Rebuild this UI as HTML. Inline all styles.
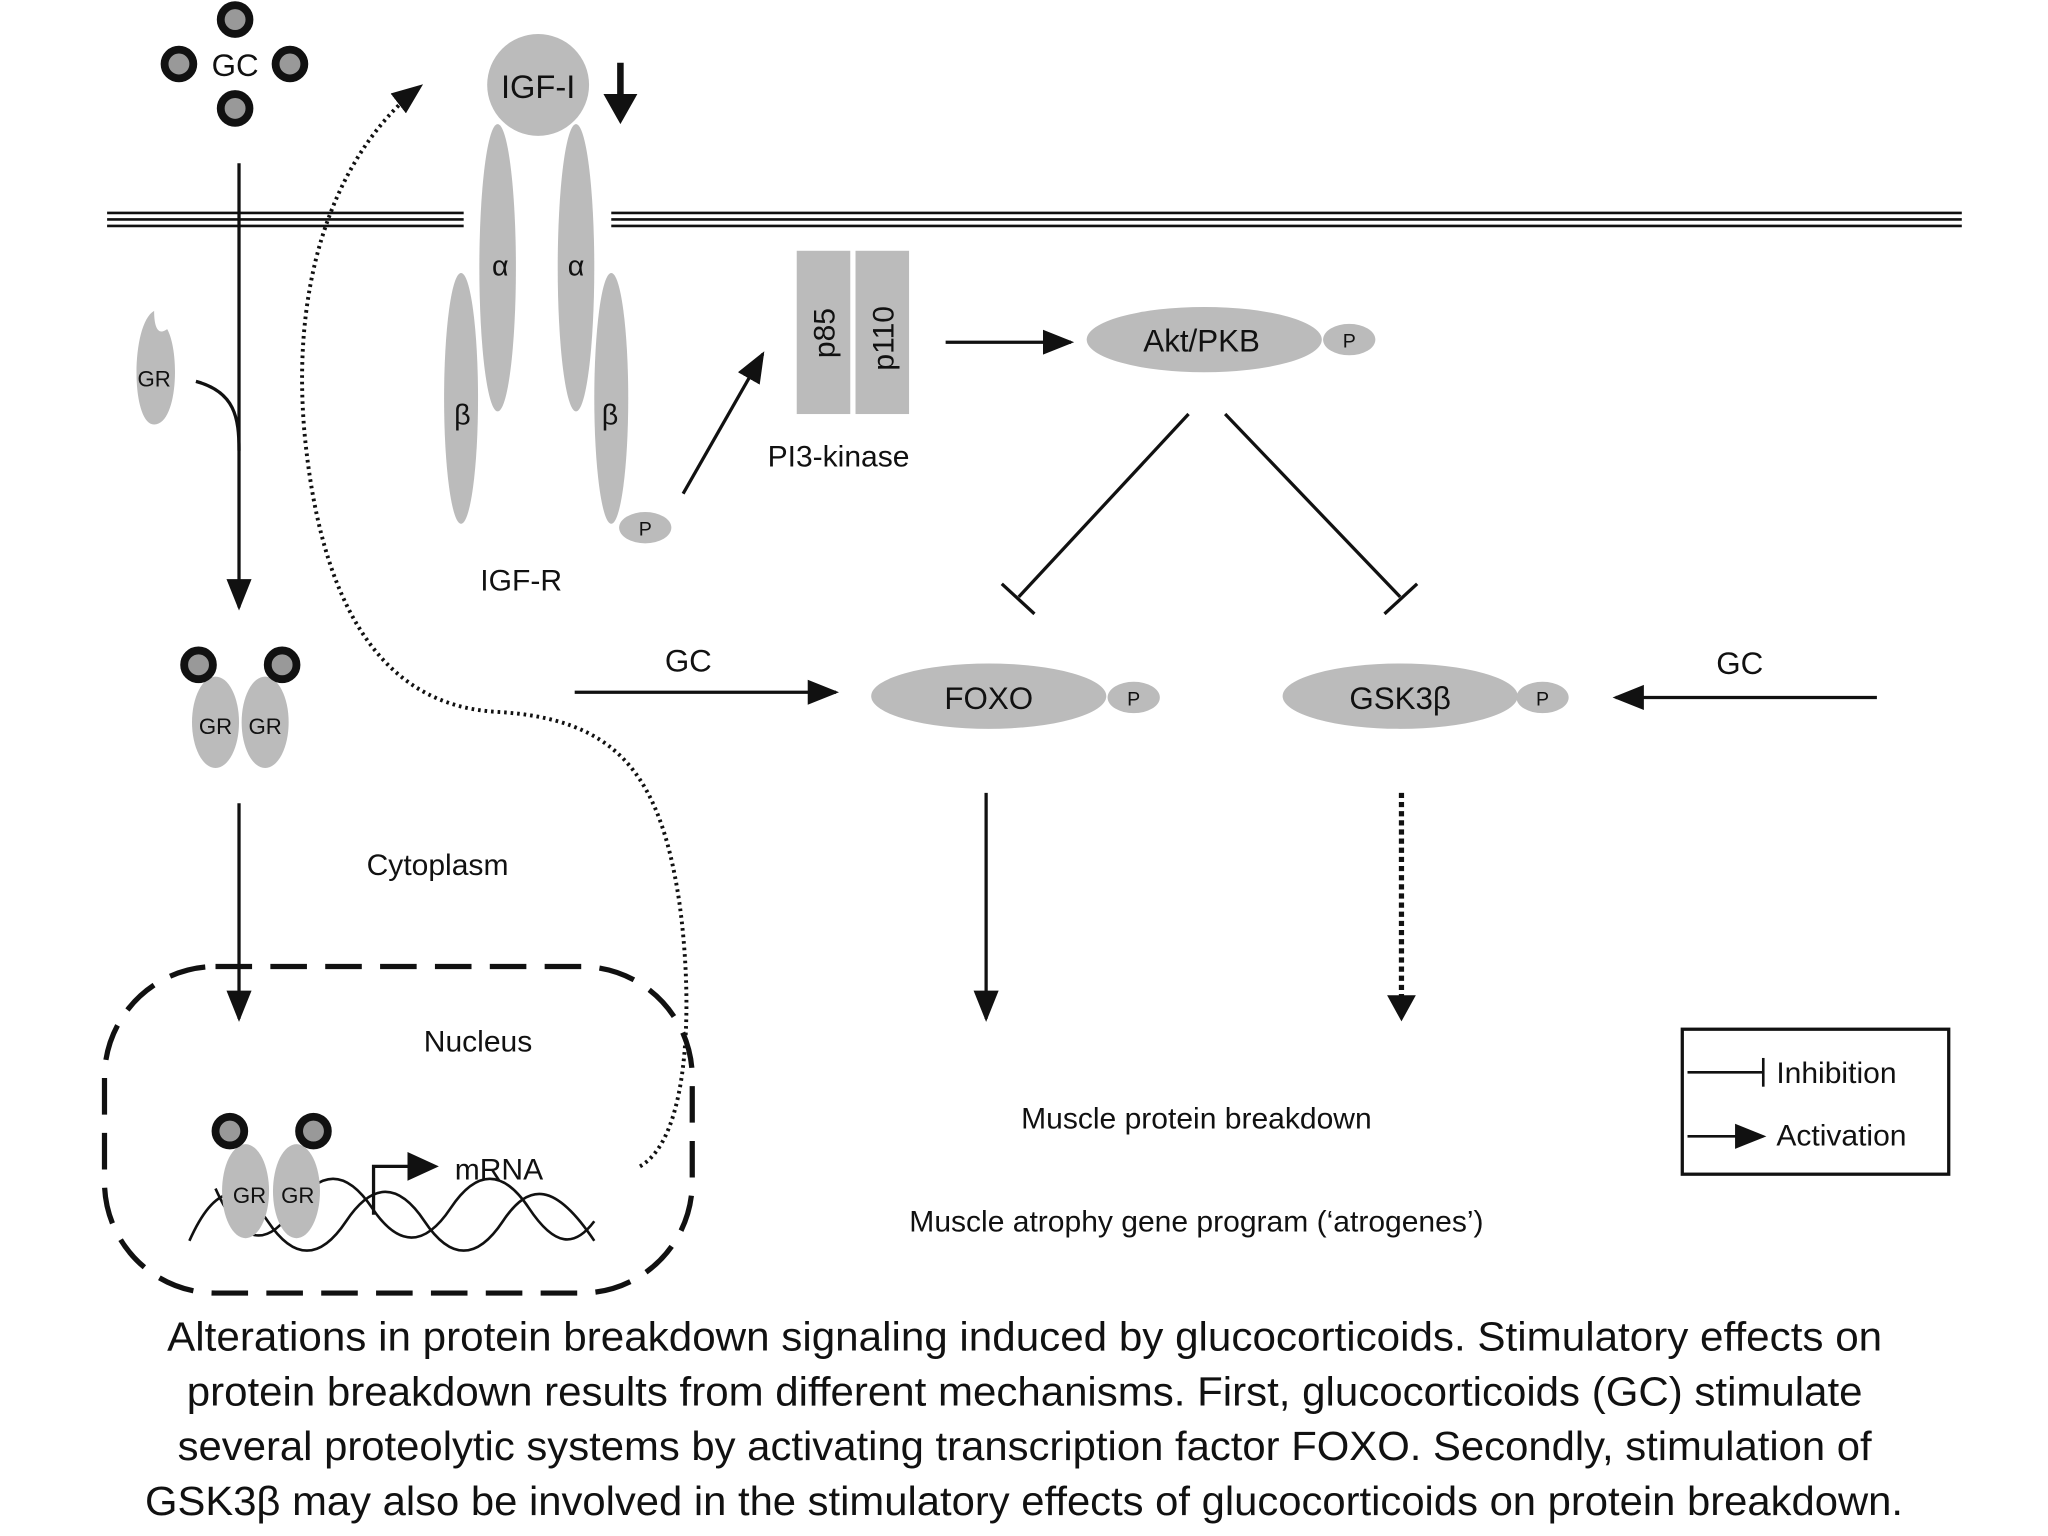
<!DOCTYPE html>
<html><head><meta charset="utf-8"><style>
html,body{margin:0;padding:0;background:#fff;}
svg{display:block;}
text{font-family:"Liberation Sans",sans-serif;fill:#111;}
</style></head><body>
<svg width="2048" height="1536" viewBox="0 0 1568 1176" xmlns="http://www.w3.org/2000/svg">
<defs>
<marker id="ahb" viewBox="0 0 10 10" refX="9" refY="5" markerWidth="24" markerHeight="24" orient="auto" markerUnits="userSpaceOnUse"><path d="M0,1 L10,5 L0,9 z" fill="#111"/></marker>
</defs>
<g stroke="#111" stroke-width="2">
<line x1="82" y1="163" x2="355" y2="163"/><line x1="82" y1="168" x2="355" y2="168"/><line x1="82" y1="173" x2="355" y2="173"/>
<line x1="468" y1="163" x2="1502" y2="163"/><line x1="468" y1="168" x2="1502" y2="168"/><line x1="468" y1="173" x2="1502" y2="173"/>
</g>
<g fill="#999" stroke="#111" stroke-width="6">
<circle cx="180" cy="15" r="11"/><circle cx="137" cy="49" r="11"/><circle cx="222" cy="49" r="11"/><circle cx="180" cy="83" r="11"/>
</g>
<text x="180" y="58" font-size="24" text-anchor="middle">GC</text>
<g stroke="#111" stroke-width="2.5" fill="none">
<line x1="183" y1="125" x2="183" y2="465" marker-end="url(#ahb)"/>
<path d="M150,292 C180,300 183,320 183,345"/>
<line x1="183" y1="615" x2="183" y2="780" marker-end="url(#ahb)"/>
</g>
<path d="M118,238 C100,248 100,325 118,325 C136,325 138,270 128,252 C120,258 118,248 118,238 Z" fill="#bbb"/>
<text x="118" y="296" font-size="17" text-anchor="middle">GR</text>
<g fill="#bbb"><ellipse cx="165" cy="553" rx="18" ry="35"/><ellipse cx="203" cy="553" rx="18" ry="35"/></g>
<g fill="#999" stroke="#111" stroke-width="6"><circle cx="152" cy="509" r="11"/><circle cx="216" cy="509" r="11"/></g>
<text x="165" y="562" font-size="17" text-anchor="middle">GR</text><text x="203" y="562" font-size="17" text-anchor="middle">GR</text>
<text x="335" y="670" font-size="23" text-anchor="middle">Cytoplasm</text>
<rect x="80" y="740" width="450" height="250" rx="85" fill="none" stroke="#111" stroke-width="4" stroke-dasharray="28,14"/>
<text x="366" y="805" font-size="23" text-anchor="middle">Nucleus</text>
<g fill="none" stroke="#111" stroke-width="2">
<path d="M145,950 C165,905 185,905 205,935 C225,965 245,965 265,935 C285,905 305,905 325,935 C345,965 365,965 385,935 C405,905 425,905 455,950"/>
<path d="M165,910 C185,955 205,955 225,925 C245,895 265,895 285,925 C305,955 325,955 345,925 C365,895 385,895 405,925 C425,955 440,955 455,935"/>
</g>
<g fill="#bbb"><ellipse cx="188" cy="912" rx="18" ry="36"/><ellipse cx="227" cy="912" rx="18" ry="36"/></g>
<g fill="#999" stroke="#111" stroke-width="6"><circle cx="176" cy="866" r="11"/><circle cx="240" cy="866" r="11"/></g>
<text x="191" y="921" font-size="17" text-anchor="middle">GR</text><text x="228" y="921" font-size="17" text-anchor="middle">GR</text>
<path d="M286,930 L286,893 L312,893" fill="none" stroke="#111" stroke-width="2.5"/>
<path d="M312,882 L336,893 L312,904 Z" fill="#111"/>
<text x="382" y="903" font-size="23" text-anchor="middle">mRNA</text>
<path d="M490,893 C530,870 530,760 520,690 C505,590 470,550 380,545 C290,540 245,460 233,330 C222,200 265,110 322,66" fill="none" stroke="#111" stroke-width="3" stroke-dasharray="2,3" marker-end="url(#ahb)"/>
<g fill="#bbb">
<ellipse cx="353" cy="305" rx="13" ry="96"/><ellipse cx="468" cy="305" rx="13" ry="96"/>
<ellipse cx="381" cy="205" rx="14" ry="110"/><ellipse cx="441" cy="205" rx="14" ry="110"/>
<circle cx="412" cy="65" r="39"/>
<ellipse cx="494" cy="404" rx="20" ry="12"/>
</g>
<text x="412" y="75" font-size="25" text-anchor="middle">IGF-I</text>
<text x="383" y="211" font-size="22" text-anchor="middle">α</text><text x="441" y="211" font-size="22" text-anchor="middle">α</text>
<text x="354" y="325" font-size="22" text-anchor="middle">β</text><text x="467" y="325" font-size="22" text-anchor="middle">β</text>
<text x="494" y="410" font-size="15" text-anchor="middle">P</text>
<text x="399" y="452" font-size="23" text-anchor="middle">IGF-R</text>
<line x1="475" y1="48" x2="475" y2="75" stroke="#111" stroke-width="5"/>
<path d="M462,72 L488,72 L475,95 Z" fill="#111"/>
<line x1="523" y1="378" x2="584" y2="271" stroke="#111" stroke-width="2.5" marker-end="url(#ahb)"/>
<g fill="#bbb"><rect x="610" y="192" width="41" height="125"/><rect x="655" y="192" width="41" height="125"/></g>
<text transform="translate(639,255) rotate(-90)" font-size="23" text-anchor="middle">p85</text>
<text transform="translate(684,259) rotate(-90)" font-size="23" text-anchor="middle">p110</text>
<text x="642" y="357" font-size="23" text-anchor="middle">PI3-kinase</text>
<line x1="724" y1="262" x2="820" y2="262" stroke="#111" stroke-width="2.5" marker-end="url(#ahb)"/>
<g fill="#bbb"><ellipse cx="922" cy="260" rx="90" ry="25"/><ellipse cx="1033" cy="260" rx="20" ry="12"/>
<ellipse cx="757" cy="533" rx="90" ry="25"/><ellipse cx="868" cy="534" rx="20" ry="12"/>
<ellipse cx="1072" cy="533" rx="90" ry="25"/><ellipse cx="1181" cy="534" rx="20" ry="12"/></g>
<text x="920" y="269" font-size="24" text-anchor="middle">Akt/PKB</text><text x="1033" y="266" font-size="15" text-anchor="middle">P</text>
<text x="757" y="543" font-size="24" text-anchor="middle">FOXO</text><text x="868" y="540" font-size="15" text-anchor="middle">P</text>
<text x="1072" y="543" font-size="24" text-anchor="middle">GSK3β</text><text x="1181" y="540" font-size="15" text-anchor="middle">P</text>
<g stroke="#111" stroke-width="2.5">
<line x1="910" y1="317" x2="780" y2="457"/><line x1="767" y1="447" x2="792" y2="470"/>
<line x1="938" y1="317" x2="1072" y2="457"/><line x1="1060" y1="470" x2="1085" y2="447"/>
<line x1="440" y1="530" x2="640" y2="530" marker-end="url(#ahb)"/>
<line x1="1437" y1="534" x2="1237" y2="534" marker-end="url(#ahb)"/>
<line x1="755" y1="607" x2="755" y2="780" marker-end="url(#ahb)"/>
</g>
<line x1="1073" y1="607" x2="1073" y2="765" stroke="#111" stroke-width="4" stroke-dasharray="4,3"/>
<path d="M1062,762 L1084,762 L1073,782 Z" fill="#111"/>
<text x="527" y="514" font-size="24" text-anchor="middle">GC</text>
<text x="1332" y="516" font-size="24" text-anchor="middle">GC</text>
<text x="916" y="864" font-size="23" text-anchor="middle">Muscle protein breakdown</text>
<text x="916" y="943" font-size="23" text-anchor="middle">Muscle atrophy gene program (‘atrogenes’)</text>
<rect x="1288" y="788" width="204" height="111" fill="none" stroke="#111" stroke-width="2.5"/>
<line x1="1292" y1="821" x2="1350" y2="821" stroke="#111" stroke-width="2"/><line x1="1350" y1="810" x2="1350" y2="832" stroke="#111" stroke-width="2"/>
<line x1="1292" y1="870" x2="1350" y2="870" stroke="#111" stroke-width="2" marker-end="url(#ahb)"/>
<text x="1360" y="829" font-size="23">Inhibition</text>
<text x="1360" y="877" font-size="23">Activation</text>
<g font-size="31">
<text x="128" y="1034" textLength="1313" lengthAdjust="spacingAndGlyphs">Alterations in protein breakdown signaling induced by glucocorticoids. Stimulatory effects on</text>
<text x="143" y="1076" textLength="1283" lengthAdjust="spacingAndGlyphs">protein breakdown results from different mechanisms. First, glucocorticoids (GC) stimulate</text>
<text x="136" y="1118" textLength="1297" lengthAdjust="spacingAndGlyphs">several proteolytic systems by activating transcription factor FOXO. Secondly, stimulation of</text>
<text x="111" y="1160" textLength="1346" lengthAdjust="spacingAndGlyphs">GSK3β may also be involved in the stimulatory effects of glucocorticoids on protein breakdown.</text>
</g>
</svg>
</body></html>
